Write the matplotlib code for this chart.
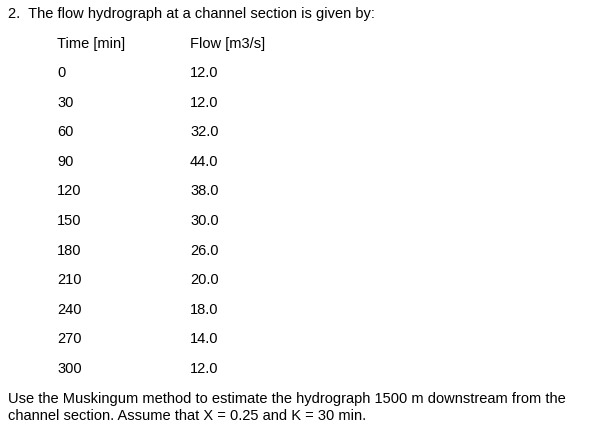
import matplotlib
matplotlib.use("Agg")
import matplotlib.pyplot as plt

times = [0, 30, 60, 90, 120, 150, 180, 210, 240, 270, 300]
flows = [12.0, 12.0, 32.0, 44.0, 38.0, 30.0, 26.0, 20.0, 18.0, 14.0, 12.0]
title = "2.  The flow hydrograph at a channel section is given by:"
headers = ["Time [min]", "Flow [m3/s]"]
footer = ["Use the Muskingum method to estimate the hydrograph 1500 m downstream from the",
          "channel section. Assume that X = 0.25 and K = 30 min."]

W, H = 593, 436
fig = plt.figure(figsize=(W/100, H/100), dpi=100)
ax = fig.add_axes([0, 0, 1, 1])
ax.set_xlim(0, W); ax.set_ylim(H, 0); ax.axis("off")
fs = 10.5
kw = dict(family="Liberation Sans", fontsize=fs, va="center", ha="left", color="black")
ax.text(8, 14, title, **kw)
ax.text(57, 44, headers[0], **kw)
ax.text(190, 44, headers[1], **kw)
for i, (t, f) in enumerate(zip(times, flows)):
    y = 73 + i * 29.6
    ax.text(57, y, str(t), **kw)
    ax.text(190, y, f"{f:.1f}", **kw)
ax.text(8, 399, footer[0], **kw)
ax.text(8, 416, footer[1], **kw)
fig.savefig("out.png", dpi=100)
